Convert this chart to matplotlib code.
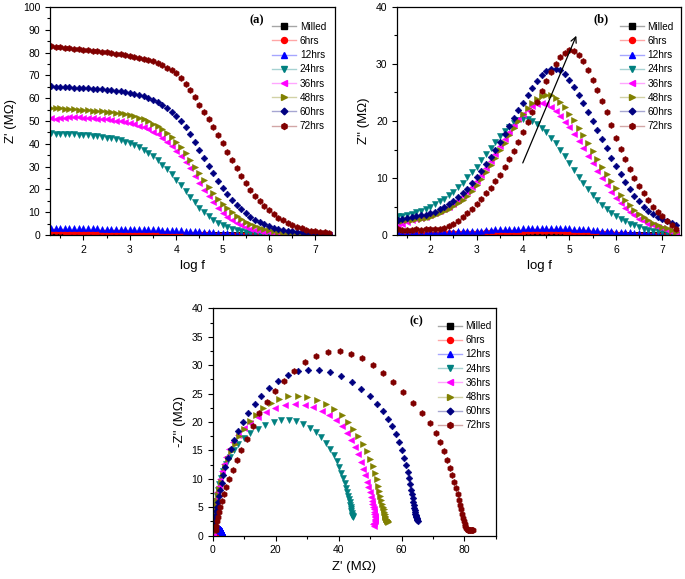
import matplotlib
matplotlib.use('Agg')
import matplotlib.pyplot as plt
from matplotlib.lines import Line2D
from matplotlib.ticker import MultipleLocator
from matplotlib.colors import to_rgba

plt.rcParams['font.family'] = ['Liberation Sans', 'DejaVu Sans']

# log f grid (one value per measured point)
logf = [1.3, 1.4, 1.5, 1.6, 1.7, 1.8, 1.9, 2.0, 2.1, 2.2,
        2.3, 2.4, 2.5, 2.6, 2.7, 2.8, 2.9, 3.0, 3.1, 3.2,
        3.3, 3.4, 3.5, 3.6, 3.7, 3.8, 3.9, 4.0, 4.1, 4.2,
        4.3, 4.4, 4.5, 4.6, 4.7, 4.8, 4.9, 5.0, 5.1, 5.2,
        5.3, 5.4, 5.5, 5.6, 5.7, 5.8, 5.9, 6.0, 6.1, 6.2,
        6.3, 6.4, 6.5, 6.6, 6.7, 6.8, 6.9, 7.0, 7.1, 7.2,
        7.3]

labels = ['Milled', '6hrs', '12hrs', '24hrs', '36hrs', '48hrs', '60hrs', '72hrs']
colors = ['#000000', '#FF0000', '#0000FF', '#008080', '#FF00FF', '#808000', '#000080', '#800000']
markers = ['s', 'o', '^', 'v', '<', '>', 'D', 'h']

# Z' (M ohm)
zre_milled = [0.4, 0.4, 0.4, 0.4, 0.4, 0.4, 0.4, 0.4, 0.4, 0.4,
              0.4, 0.4, 0.4, 0.3, 0.3, 0.3, 0.3, 0.3, 0.3, 0.3,
              0.3, 0.3, 0.3, 0.2, 0.2, 0.2, 0.2, 0.2, 0.2, 0.2,
              0.1, 0.1, 0.1, 0.1, 0.1, 0.1, 0.1, 0.1, 0.1, 0.1,
              0.1, 0.1, 0.1, 0.1, 0.1, 0.0, 0.0, 0.0, 0.0, 0.0,
              0.0, 0.0, 0.0, 0.0, 0.0, 0.0, 0.0, 0.0, 0.0, 0.0,
              0.0]
zre_6 = [1.6, 1.6, 1.6, 1.5, 1.5, 1.5, 1.5, 1.5, 1.4, 1.4,
         1.4, 1.4, 1.3, 1.3, 1.3, 1.2, 1.2, 1.1, 1.1, 1.0,
         1.0, 0.9, 0.9, 0.8, 0.7, 0.7, 0.6, 0.6, 0.5, 0.5,
         0.4, 0.4, 0.3, 0.3, 0.3, 0.2, 0.2, 0.2, 0.1, 0.1,
         0.1, 0.1, 0.1, 0.1, 0.1, 0.1, 0.1, 0.1, 0.1, 0.1,
         0.1, 0.1, 0.1, 0.0, 0.0, 0.0, 0.0, 0.0, 0.0, 0.0,
         0.0]
zre_12 = [3.0, 3.0, 3.0, 2.9, 2.9, 2.9, 2.9, 2.9, 2.9, 2.9,
          2.9, 2.8, 2.8, 2.8, 2.8, 2.8, 2.7, 2.7, 2.7, 2.6,
          2.6, 2.6, 2.5, 2.5, 2.4, 2.4, 2.3, 2.2, 2.1, 2.0,
          1.9, 1.8, 1.7, 1.5, 1.4, 1.2, 1.1, 0.9, 0.8, 0.7,
          0.6, 0.5, 0.4, 0.3, 0.3, 0.2, 0.2, 0.1, 0.1, 0.1,
          0.1, 0.1, 0.1, 0.1, 0.1, 0.1, 0.1, 0.1, 0.1, 0.1,
          0.1]
zre_24 = [44.6, 44.5, 44.4, 44.3, 44.2, 44.1, 44.0, 43.9, 43.7, 43.5,
          43.3, 43.0, 42.7, 42.4, 42.0, 41.5, 40.9, 40.2, 39.4, 38.4,
          37.3, 36.0, 34.5, 32.8, 30.9, 28.8, 26.6, 24.2, 21.8, 19.4,
          16.7, 14.3, 12.0, 10.0, 8.2, 6.7, 5.4, 4.3, 3.4, 2.7,
          2.1, 1.7, 1.3, 1.0, 0.8, 0.6, 0.5, 0.4, 0.3, 0.3,
          0.2, 0.2, 0.2, 0.1, 0.1, 0.1, 0.1, 0.1, 0.1, 0.1,
          0.1]
zre_36 = [51.2, 51.0, 51.3, 51.5, 51.6, 51.7, 51.6, 51.5, 51.4, 51.2,
          51.1, 50.9, 50.7, 50.5, 50.2, 49.9, 49.5, 49.1, 48.5, 47.9,
          47.2, 46.3, 45.3, 44.1, 42.7, 41.0, 39.1, 37.0, 34.6, 32.0,
          29.2, 26.0, 23.0, 19.9, 17.0, 14.3, 11.9, 9.8, 8.0, 6.5,
          5.3, 4.3, 3.5, 2.8, 2.3, 1.9, 1.5, 1.2, 1.0, 0.8,
          0.6, 0.5, 0.4, 0.4, 0.3, 0.3, 0.2, 0.2, 0.2, 0.1,
          0.1]
zre_48 = [55.7, 55.6, 55.5, 55.4, 55.3, 55.2, 55.0, 54.9, 54.8, 54.6,
          54.5, 54.3, 54.1, 53.9, 53.6, 53.3, 53.0, 52.6, 52.1, 51.5,
          50.8, 49.9, 48.9, 47.7, 46.3, 44.7, 42.9, 41.0, 38.6, 36.0,
          33.1, 30.0, 27.0, 24.0, 21.2, 18.5, 16.0, 13.7, 11.7, 9.9,
          8.4, 7.0, 5.8, 4.8, 3.9, 3.2, 2.6, 2.1, 1.7, 1.4,
          1.1, 0.9, 0.7, 0.6, 0.5, 0.4, 0.3, 0.3, 0.2, 0.2,
          0.2]
zre_60 = [65.2, 65.0, 64.9, 64.8, 64.7, 64.6, 64.5, 64.4, 64.3, 64.2,
          64.1, 63.9, 63.7, 63.5, 63.3, 63.0, 62.7, 62.4, 62.0, 61.5,
          60.9, 60.2, 59.3, 58.3, 57.1, 55.7, 54.0, 52.1, 49.9, 47.2,
          44.2, 40.9, 37.4, 33.9, 30.4, 27.0, 23.8, 20.8, 18.0, 15.5,
          13.3, 11.3, 9.6, 8.1, 6.8, 5.7, 4.8, 4.0, 3.3, 2.8,
          2.3, 2.0, 1.7, 1.4, 1.2, 1.0, 0.8, 0.7, 0.6, 0.5,
          0.4]
zre_72 = [82.7, 82.5, 82.3, 82.1, 81.9, 81.7, 81.4, 81.2, 81.0, 80.8,
          80.5, 80.3, 80.1, 79.8, 79.5, 79.2, 78.9, 78.6, 78.2, 77.8,
          77.3, 76.7, 76.1, 75.3, 74.4, 73.4, 72.3, 71.0, 69.0, 66.4,
          63.5, 60.4, 57.2, 54.0, 50.8, 47.4, 43.9, 40.3, 36.5, 32.8,
          29.2, 25.9, 22.8, 19.9, 17.2, 14.8, 12.7, 10.8, 9.1, 7.7,
          6.4, 5.3, 4.3, 3.5, 2.9, 2.4, 2.0, 1.7, 1.4, 1.2,
          1.0]

# Z'' (M ohm)
zim_milled = [0.1, 0.1, 0.1, 0.1, 0.1, 0.1, 0.1, 0.1, 0.1, 0.1,
              0.1, 0.1, 0.1, 0.1, 0.1, 0.1, 0.1, 0.1, 0.1, 0.1,
              0.2, 0.2, 0.2, 0.2, 0.2, 0.2, 0.2, 0.2, 0.2, 0.2,
              0.2, 0.2, 0.2, 0.2, 0.2, 0.2, 0.2, 0.2, 0.2, 0.2,
              0.1, 0.1, 0.1, 0.1, 0.1, 0.1, 0.1, 0.1, 0.1, 0.1,
              0.0, 0.0, 0.0, 0.0, 0.0, 0.0, 0.0, 0.0, 0.0, 0.0,
              0.0]
zim_6 = [0.1, 0.1, 0.1, 0.1, 0.2, 0.2, 0.2, 0.2, 0.2, 0.2,
         0.3, 0.3, 0.3, 0.3, 0.3, 0.4, 0.4, 0.4, 0.4, 0.5,
         0.5, 0.5, 0.5, 0.6, 0.6, 0.6, 0.6, 0.6, 0.7, 0.7,
         0.7, 0.7, 0.7, 0.7, 0.7, 0.7, 0.6, 0.6, 0.6, 0.5,
         0.5, 0.5, 0.4, 0.4, 0.3, 0.3, 0.3, 0.2, 0.2, 0.2,
         0.1, 0.1, 0.1, 0.1, 0.1, 0.1, 0.0, 0.0, 0.0, 0.0,
         0.0]
zim_12 = [0.3, 0.3, 0.3, 0.4, 0.4, 0.4, 0.4, 0.5, 0.5, 0.5,
          0.6, 0.6, 0.6, 0.7, 0.7, 0.7, 0.8, 0.8, 0.8, 0.9,
          0.9, 1.0, 1.0, 1.0, 1.1, 1.1, 1.1, 1.2, 1.2, 1.2,
          1.3, 1.3, 1.3, 1.3, 1.3, 1.2, 1.2, 1.2, 1.1, 1.1,
          1.0, 1.0, 0.9, 0.9, 0.8, 0.7, 0.7, 0.6, 0.6, 0.5,
          0.5, 0.4, 0.4, 0.3, 0.3, 0.3, 0.2, 0.2, 0.2, 0.1,
          0.1]
zim_24 = [3.3, 3.4, 3.5, 3.7, 4.0, 4.3, 4.6, 5.0, 5.4, 5.9,
          6.4, 7.0, 7.6, 8.4, 9.2, 10.1, 11.0, 12.0, 13.1, 14.2,
          15.3, 16.3, 17.3, 18.2, 19.0, 19.7, 20.2, 20.4, 20.3, 20.0,
          19.5, 18.8, 18.0, 17.1, 16.1, 15.0, 13.8, 12.6, 11.4, 10.2,
          9.1, 8.0, 7.0, 6.1, 5.3, 4.6, 3.9, 3.3, 2.8, 2.4,
          2.0, 1.7, 1.4, 1.1, 0.9, 0.8, 0.7, 0.5, 0.4, 0.3,
          0.2]
zim_36 = [1.7, 2.0, 2.3, 2.6, 2.8, 3.0, 3.2, 3.5, 3.8, 4.2,
          4.6, 5.0, 5.5, 6.1, 6.8, 7.6, 8.5, 9.5, 10.6, 11.8,
          13.0, 14.3, 15.6, 16.9, 18.1, 19.3, 20.3, 21.2, 22.0, 22.6,
          23.0, 23.1, 22.9, 22.4, 21.7, 20.9, 19.9, 18.9, 17.7, 16.5,
          15.2, 13.9, 12.6, 11.3, 10.0, 8.8, 7.6, 6.5, 5.6, 4.8,
          4.1, 3.5, 2.9, 2.4, 2.0, 1.7, 1.4, 1.2, 0.9, 0.6,
          0.3]
zim_48 = [2.4, 2.5, 2.6, 2.7, 2.8, 2.9, 3.0, 3.2, 3.5, 3.8,
          4.2, 4.6, 5.1, 5.6, 6.2, 6.9, 7.8, 8.8, 9.9, 11.0,
          12.2, 13.5, 14.9, 16.2, 17.5, 18.8, 20.0, 21.2, 22.3, 23.2,
          23.9, 24.4, 24.6, 24.5, 24.0, 23.3, 22.4, 21.3, 20.1, 18.8,
          17.5, 16.1, 14.8, 13.4, 12.0, 10.7, 9.4, 8.2, 7.1, 6.1,
          5.2, 4.4, 3.7, 3.1, 2.6, 2.2, 1.8, 1.5, 1.2, 0.9,
          0.6]
zim_60 = [2.6, 2.8, 3.0, 3.1, 3.3, 3.5, 3.6, 3.8, 4.1, 4.5,
          4.9, 5.4, 5.9, 6.6, 7.3, 8.1, 9.1, 10.1, 11.2, 12.4,
          13.7, 15.0, 16.4, 17.8, 19.2, 20.6, 21.9, 23.2, 24.5, 25.8,
          27.0, 28.0, 28.8, 29.2, 29.2, 28.9, 28.2, 27.2, 26.0, 24.6,
          23.1, 21.6, 20.0, 18.4, 16.8, 15.2, 13.6, 12.1, 10.7, 9.3,
          8.0, 6.9, 5.9, 5.0, 4.3, 3.7, 3.2, 2.8, 2.4, 2.1,
          1.8]
zim_72 = [1.0, 0.9, 0.9, 0.9, 1.0, 0.9, 1.0, 1.0, 1.0, 1.1,
          1.3, 1.6, 2.0, 2.5, 3.1, 3.8, 4.6, 5.4, 6.3, 7.3,
          8.3, 9.4, 10.6, 11.9, 13.3, 14.8, 16.4, 18.1, 19.8, 21.6,
          23.4, 25.2, 27.0, 28.6, 30.0, 31.2, 32.0, 32.4, 32.3, 31.6,
          30.5, 29.0, 27.2, 25.4, 23.5, 21.5, 19.3, 17.0, 15.1, 13.3,
          11.6, 10.0, 8.6, 7.3, 6.1, 5.0, 4.1, 3.3, 2.5, 1.7,
          1.0]

zre_all = [zre_milled, zre_6, zre_12, zre_24, zre_36, zre_48, zre_60, zre_72]
zim_all = [zim_milled, zim_6, zim_12, zim_24, zim_36, zim_48, zim_60, zim_72]

fig = plt.figure(figsize=(6.85, 5.79), dpi=100)
ax_a = fig.add_axes([0.073, 0.594, 0.416, 0.394])
ax_b = fig.add_axes([0.580, 0.594, 0.414, 0.394])
ax_c = fig.add_axes([0.3105, 0.075, 0.4135, 0.3925])


def msize(m):
    return 3.4 if m == 'D' else 4.3


def draw(ax, xs, ys):
    for x, y, c, m in zip(xs, ys, colors, markers):
        ax.plot(x, y, ls='none', marker=m, ms=msize(m), color=c, mec=c, mew=0.4)


def style(ax):
    for s in ax.spines.values():
        s.set_linewidth(0.9)
    ax.tick_params(which='both', direction='out', labelsize=7.5, width=0.8,
                   top=False, right=False)
    ax.tick_params(which='major', length=3.5)
    ax.tick_params(which='minor', length=2)


def add_legend(ax, x, y):
    handles = [Line2D([], [], color=to_rgba(c, 0.35), lw=1.0, marker=m, ms=msize(m),
                      markerfacecolor=c, markeredgecolor=c)
               for c, m in zip(colors, markers)]
    ax.legend(handles, labels, loc='upper left', bbox_to_anchor=(x, y), frameon=False,
              fontsize=7.2, handlelength=2.4, handletextpad=0.35, labelspacing=0.42,
              borderpad=0, borderaxespad=0)


# (a) Z' vs log f
draw(ax_a, [logf] * 8, zre_all)
ax_a.set_xlim(1.28, 7.42)
ax_a.set_ylim(0, 100)
ax_a.xaxis.set_major_locator(MultipleLocator(1))
ax_a.xaxis.set_minor_locator(MultipleLocator(0.5))
ax_a.yaxis.set_major_locator(MultipleLocator(10))
ax_a.yaxis.set_minor_locator(MultipleLocator(5))
ax_a.set_xlabel('log f', fontsize=9.5)
ax_a.set_ylabel("Z' (M\u03a9)", fontsize=9.5, labelpad=4)
style(ax_a)
ax_a.text(0.725, 0.94, '(a)', transform=ax_a.transAxes, fontsize=9, fontweight='bold',
          family='Liberation Serif', ha='center', va='center')
add_legend(ax_a, 0.78, 0.935)

# (b) Z'' vs log f
draw(ax_b, [logf] * 8, zim_all)
ax_b.set_xlim(1.29, 7.40)
ax_b.set_ylim(0, 40)
ax_b.xaxis.set_major_locator(MultipleLocator(1))
ax_b.xaxis.set_minor_locator(MultipleLocator(0.5))
ax_b.yaxis.set_major_locator(MultipleLocator(10))
ax_b.yaxis.set_minor_locator(MultipleLocator(5))
ax_b.set_xlabel('log f', fontsize=9.5)
ax_b.set_ylabel("Z'' (M\u03a9)", fontsize=9.5, labelpad=4)
style(ax_b)
ax_b.text(0.72, 0.947, '(b)', transform=ax_b.transAxes, fontsize=9, fontweight='bold',
          family='Liberation Serif', ha='center', va='center')
add_legend(ax_b, 0.785, 0.935)
ax_b.annotate('', xy=(5.17, 35.4), xytext=(3.97, 12.2),
              arrowprops=dict(arrowstyle='->', color='black', lw=0.9))

# (c) Nyquist plot
draw(ax_c, zre_all, zim_all)
ax_c.set_xlim(0, 90)
ax_c.set_ylim(0, 40)
ax_c.xaxis.set_major_locator(MultipleLocator(20))
ax_c.xaxis.set_minor_locator(MultipleLocator(10))
ax_c.yaxis.set_major_locator(MultipleLocator(5))
ax_c.yaxis.set_minor_locator(MultipleLocator(2.5))
ax_c.set_xlabel("Z' (M\u03a9)", fontsize=9.5)
ax_c.set_ylabel("-Z'' (M\u03a9)", fontsize=9.5, labelpad=4)
style(ax_c)
ax_c.text(0.72, 0.941, '(c)', transform=ax_c.transAxes, fontsize=9, fontweight='bold',
          family='Liberation Serif', ha='center', va='center')
add_legend(ax_c, 0.795, 0.944)

fig.savefig('out.png', dpi=100)
